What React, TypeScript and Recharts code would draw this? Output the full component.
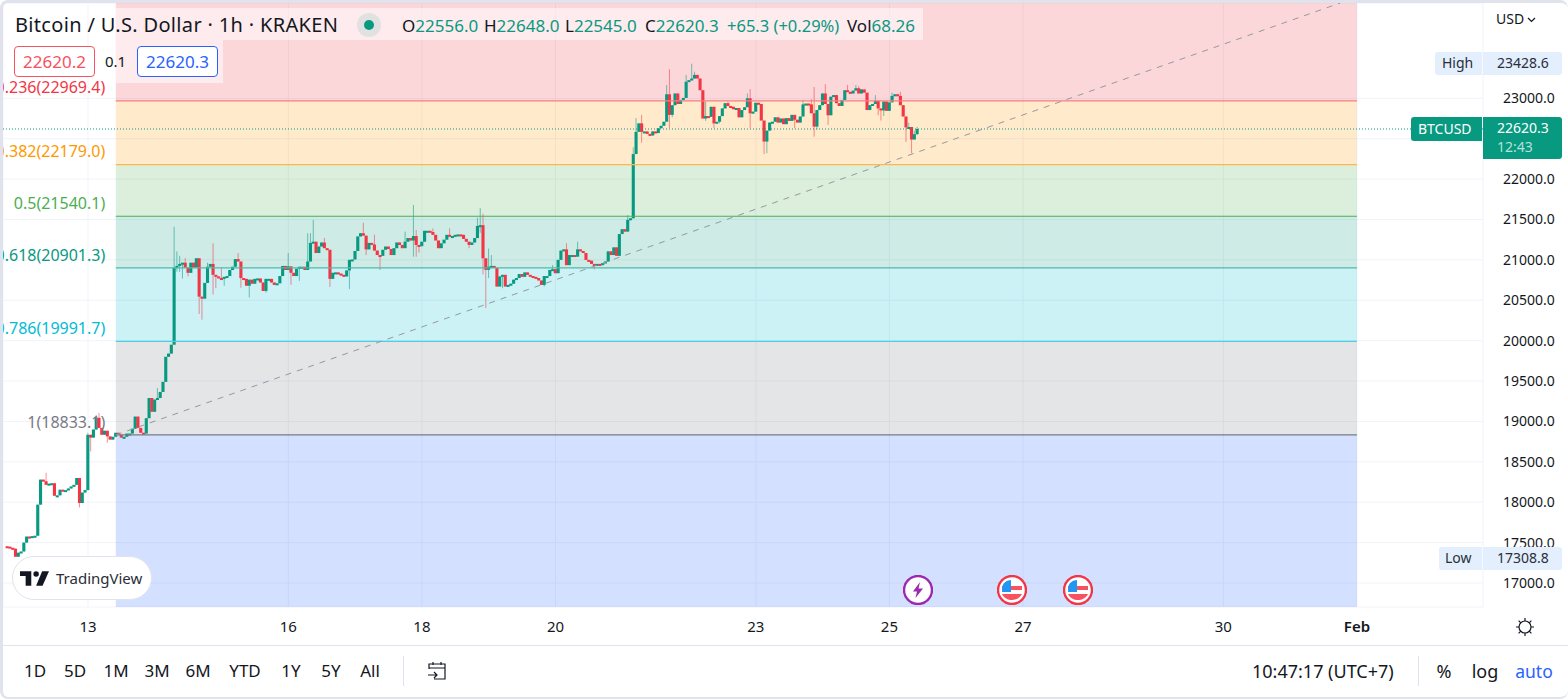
import {
  ComposedChart,
  Bar,
  XAxis,
  YAxis,
  CartesianGrid,
  ReferenceArea,
  ReferenceLine,
  ReferenceDot,
} from "recharts"

const FONT = '"Noto Sans", sans-serif'
const UP = "#089981"
const DOWN = "#f23645"
const INK = "#131722"

// hourly closes, first candle is 29 hours before Jan 13 00:00
const firstOpen = 17455
const closes = [
  17450, 17436, 17425, 17325, 17375, 17390, 17500, 17575, 17570, 17580,
  17585, 17970, 18280, 18260, 18215, 18230, 18235, 18080, 18085, 18155,
  18150, 18150, 18170, 18195, 18215, 18300, 17990, 18120, 18150,
  18835, 18800, 18900, 19045, 18920, 18835, 18885, 18815, 18775, 18810,
  18860, 18835, 18800, 18810, 18850, 18850, 18910, 19060, 18920, 18860,
  18850, 19040, 19290, 19120, 19270, 19290, 19365, 19490, 19800, 19840,
  19950,
  20900, 20925, 20950, 20965, 20905, 20840, 20965, 20905, 21020, 20545,
  20520, 20715, 20915, 20950, 20815, 20795, 20775, 20765, 20790, 20800,
  20875, 20915, 21010, 20980, 20775, 20765, 20680, 20755, 20705, 20765,
  20770, 20720, 20615, 20765, 20765, 20720, 20690, 20710, 20800, 20925,
  20875, 20920, 20840, 20800, 20890, 20915, 20915, 20875, 20980, 21210,
  21225, 21085, 21165, 21215, 21145, 21125,
  20765, 20840, 20845, 20830, 20815, 20795, 20870, 21000, 21005, 21110,
  21290, 21330, 21300, 21130, 21210, 21190, 21115, 21060, 21050, 21125,
  21165, 21135, 21060, 21145, 21215, 21185, 21145, 21225, 21270, 21240,
  21295, 21185, 21170, 21225, 21360, 21360, 21345, 21310, 21240, 21145,
  21205, 21250, 21310, 21290, 21295, 21310, 21315, 21310, 21260, 21225,
  21185, 21215, 21270, 21420, 21430, 21020, 20877,
  20915, 20925, 20900, 20670, 20795, 20815, 20670, 20690, 20705, 20755,
  20775, 20825, 20790, 20845, 20815, 20800, 20790, 20775, 20745, 20690,
  20800, 20800, 20875, 20885, 20835, 21000, 21115, 21130, 20935, 21060,
  21060, 21040, 21130, 21110, 21085, 21000, 20990, 20950, 20935, 20950,
  20935, 20960, 20980, 21105, 21060, 21155, 21050, 21320, 21380, 21350,
  21495, 21515,
  22310, 22585, 22690, 22585, 22590, 22560, 22540, 22590, 22570, 22630,
  22660, 22710, 23050, 22795, 22915, 23060, 22930, 22980, 23005, 23205,
  23225, 23245, 23290, 23245, 23100, 22750, 22780, 22770, 22895, 22690,
  22710, 22780, 22875, 22940, 22905, 22895, 22865, 22880, 22765, 22855,
  22890, 23000, 22815, 22835, 22945, 22930, 22725, 22465, 22600, 22700,
  22710, 22765, 22700,
  22750, 22680, 22755, 22720, 22795, 22735, 22700, 22775, 22925, 22935,
  22925, 22815, 22650, 22855, 22915, 23060, 22930, 22790, 23020, 23040,
  22940, 22905, 22980, 23100, 23080, 23060, 23095, 23125, 23060, 23110,
  23070, 22855, 22915, 22930, 22970, 22875, 22850, 22960, 22845, 22950,
  23030, 23050, 23030, 22915, 22775, 22640, 22645, 22490, 22556, 22620.3,
]

// [candle index, price] for the wicks that stick out far enough to read
const upperWicks = [
  [14, 18365], [29, 18860], [32, 19080], [33, 19105], [54, 19415], [60, 21410],
  [61, 21105], [62, 21050], [64, 21020], [72, 20965], [74, 21205], [77, 20900],
  [83, 21085], [101, 21085], [108, 21330], [109, 21330], [110, 21495], [114, 21270],
  [128, 21460], [132, 21310], [143, 21350], [146, 21680], [147, 21370], [153, 21390],
  [159, 21390], [169, 21520], [170, 21640], [171, 21570], [173, 21140], [174, 21060],
  [196, 20935], [201, 21205], [205, 21225], [223, 21555], [225, 22395], [226, 22755],
  [228, 22795], [237, 23165], [238, 23360], [244, 23290], [246, 23428.6], [247, 23330],
  [251, 22960], [259, 22960], [266, 23060], [267, 23115], [283, 22795], [286, 22980],
  [289, 22990], [290, 23140], [294, 23175], [302, 23165], [305, 23165], [306, 23150],
  [312, 23040], [318, 23070], [321, 23080], [324, 22700], [326, 22600], [327, 22648],
]
const lowerWicks = [
  [26, 17935], [30, 18630], [36, 18735], [61, 20855], [62, 20850], [63, 20770],
  [65, 20795], [69, 20330], [70, 20260], [74, 20570], [75, 20650], [78, 20680],
  [84, 20655], [87, 20535], [93, 20595], [102, 20690], [105, 20740], [116, 20665],
  [123, 20640], [129, 21060], [134, 20875], [146, 21040], [147, 21040], [148, 21090],
  [166, 21145], [170, 21335], [171, 20820], [172, 20405], [173, 20775], [178, 20650],
  [193, 20670], [211, 20880], [228, 22450], [231, 22535], [238, 22630], [239, 22765],
  [251, 22720], [254, 22630], [256, 22690], [267, 22630], [272, 22310], [273, 22320],
  [283, 22630], [290, 22525], [291, 22615], [295, 22670], [313, 22790], [314, 22725],
  [315, 22780], [323, 22460], [325, 22320], [327, 22545],
]

const fibLevels = [
  { name: "0.236", price: 22969.4, color: "#f23645", line: "#f77c80" },
  { name: "0.382", price: 22179.0, color: "#ff9800", line: "#ffb74d" },
  { name: "0.5", price: 21540.1, color: "#4caf50", line: "#4caf50" },
  { name: "0.618", price: 20901.3, color: "#089981", line: "#4fb8a8" },
  { name: "0.786", price: 19991.7, color: "#00bcd4", line: "#4dd0e1" },
  { name: "1", price: 18833.1, color: "#787b86", line: "#787b86" },
]
const fibBands = [
  { from: 22969.4, to: 24180, fill: "#f23645" },
  { from: 22179.0, to: 22969.4, fill: "#ff9800" },
  { from: 21540.1, to: 22179.0, fill: "#4caf50" },
  { from: 20901.3, to: 21540.1, fill: "#089981" },
  { from: 19991.7, to: 20901.3, fill: "#00bcd4" },
  { from: 18833.1, to: 19991.7, fill: "#787b86" },
  { from: 16703, to: 18833.1, fill: "#2962ff" },
]

const priceTicks = [17000, 17500, 18000, 18500, 19000, 19500, 20000, 20500, 21000, 21500, 22000, 22500, 23000]
const hourTicks = [0, 72, 120, 168, 240, 288, 336, 408, 456]
const hourLabels: Record<number, string> = {
  0: "13", 72: "16", 120: "18", 168: "20", 240: "23", 288: "25", 336: "27", 408: "30", 456: "Feb",
}
const ranges = ["1D", "5D", "1M", "3M", "6M", "YTD", "1Y", "5Y", "All"]
const rangeCenters = [35, 75, 116, 157, 198, 245, 291, 331, 370]
const ohlc = [
  { key: "O", value: "22556.0", left: 402 },
  { key: "H", value: "22648.0", left: 484 },
  { key: "L", value: "22545.0", left: 565 },
  { key: "C", value: "22620.3", left: 645 },
]

const highs = new Map(upperWicks.map(([i, p]) => [i, p]))
const lows = new Map(lowerWicks.map(([i, p]) => [i, p]))
const candles = closes.map((close, i) => {
  const open = i === 0 ? firstOpen : closes[i - 1]
  const high = highs.get(i) ?? Math.max(open, close)
  const low = lows.get(i) ?? Math.min(open, close)
  return { hour: i - 29, open, close, high, low, range: [low, high] }
})

function Candle(props: any) {
  const { x, y, width, height, payload } = props
  const h = Math.abs(height)
  const top = height < 0 ? y + height : y
  const span = payload.high - payload.low || 1
  const bodyTop = top + ((payload.high - Math.max(payload.open, payload.close)) / span) * h
  const bodyBottom = top + ((payload.high - Math.min(payload.open, payload.close)) / span) * h
  const color = payload.close >= payload.open ? UP : DOWN
  const mid = x + width / 2
  return (
    <g>
      <line x1={mid} x2={mid} y1={top} y2={top + h} stroke={color} strokeOpacity={0.55} />
      <rect x={x - 0.3} y={bodyTop} width={width + 0.6} height={Math.max(bodyBottom - bodyTop, 2)} fill={color} />
    </g>
  )
}

function DateTick({ x, y, payload }: any) {
  const month = payload.value === 456
  return (
    <text x={x} y={y} textAnchor="middle" fontFamily={FONT} fontSize={15} fill={INK} fontWeight={month ? 600 : 400}>
      {hourLabels[payload.value]}
    </text>
  )
}

function Txt({ left, top, color = INK, size = 14, center, children, style }: any) {
  return (
    <div
      style={{
        position: "absolute",
        left,
        top,
        color,
        fontSize: size,
        lineHeight: "18px",
        whiteSpace: "nowrap",
        transform: center ? "translateX(-50%)" : undefined,
        ...style,
      }}
    >
      {children}
    </div>
  )
}

function UsFlag({ left }: { left: number }) {
  return (
    <svg style={{ position: "absolute", left, top: 575 }} width={30} height={30} viewBox="0 0 30 30">
      <circle cx={15} cy={15} r={14} fill="#fff" stroke="#f23645" strokeWidth={2.4} />
      <path d="M5 11H25V15H5Z M5 19H25C23 23 19 25 15 25 11 25 7 23 5 19Z" fill="#f7525f" />
      <path d="M5.5 11C6 8 10 5 14 5V17H5Z" fill="#2196f3" />
    </svg>
  )
}

export default function App() {
  return (
    <div style={{ position: "absolute", left: 0, top: 0, width: 1568, height: 699, background: "#fff", overflow: "hidden", fontFamily: FONT }}>
      <ComposedChart
        width={1568}
        height={646}
        data={candles}
        margin={{ top: 3, right: 0, bottom: 0, left: 3 }}
        style={{ position: "absolute", left: 0, top: 0 }}
      >
        <CartesianGrid stroke="#f0f3fa" />
        <XAxis
          dataKey="hour"
          type="number"
          domain={[-30.54, 501.3]}
          ticks={hourTicks}
          height={39}
          axisLine={false}
          tickLine={false}
          tickMargin={19}
          tick={<DateTick />}
          allowDataOverflow
        />
        <YAxis
          orientation="right"
          type="number"
          domain={[16703, 24180]}
          ticks={priceTicks}
          width={85}
          axisLine={false}
          tickLine={false}
          tickMargin={14}
          tickFormatter={(v: number) => (v === 22500 ? "" : v.toFixed(1))}
          tick={{ fill: INK, fontSize: 14, fontFamily: FONT, textAnchor: "start" }}
          allowDataOverflow
        />
        {fibBands.map((b) => (
          <ReferenceArea key={b.from} x1={10} x2={456} y1={b.from} y2={b.to} fill={b.fill} fillOpacity={0.2} stroke="none" ifOverflow="hidden" />
        ))}
        {fibLevels.map((l) => (
          <ReferenceLine
            key={l.name}
            segment={[{ x: 10, y: l.price }, { x: 456, y: l.price }]}
            stroke={l.line}
            strokeWidth={1.2}
          />
        ))}
        <ReferenceLine
          segment={[{ x: 10, y: 18833.1 }, { x: 450, y: 24180 }]}
          stroke="#9598a1"
          strokeDasharray="6 6"
        />
        <ReferenceLine y={22620.3} stroke={UP} strokeDasharray="1 2" />
        {fibLevels.map((l) => (
          <ReferenceDot
            key={l.name}
            x={8}
            y={l.price}
            r={0}
            stroke="none"
            label={{ value: `${l.name}(${l.price.toFixed(1)})`, position: "left", fill: l.color, fontSize: 16, fontFamily: FONT, dy: -13 }}
          />
        ))}
        <Bar dataKey="range" barSize={3} shape={<Candle />} isAnimationActive={false} />
      </ComposedChart>

      {/* legend strip */}
      <div style={{ position: "absolute", left: 116, top: 8, width: 807, height: 32, background: "rgba(255,255,255,.5)" }} />
      <div style={{ position: "absolute", left: 116, top: 40, width: 107, height: 43, background: "rgba(255,255,255,.5)" }} />
      <Txt left={15} top={16} size={20} style={{ letterSpacing: 0.33 }}>Bitcoin / U.S. Dollar · 1h · KRAKEN</Txt>
      <svg style={{ position: "absolute", left: 357, top: 13 }} width={24} height={24}>
        <circle cx={12} cy={12} r={12} fill="#089981" fillOpacity={0.12} />
        <circle cx={12} cy={12} r={5} fill={UP} />
      </svg>
      {ohlc.map((o) => (
        <Txt key={o.key} left={o.left} top={17} size={17}>
          {o.key}
          <span style={{ color: UP }}>{o.value}</span>
        </Txt>
      ))}
      <Txt left={727} top={17} size={16.5} color={UP}>+65.3 (+0.29%)</Txt>
      <Txt left={847} top={17} size={17}>Vol<span style={{ color: UP }}>68.26</span></Txt>

      <div style={{ position: "absolute", left: 14, top: 46, width: 81, height: 31, boxSizing: "border-box", border: "1px solid #f7525f", borderRadius: 4, background: "#fff", color: "#f7525f", fontSize: 17, lineHeight: "29px", textAlign: "center" }}>22620.2</div>
      <Txt left={105} top={52} size={15}>0.1</Txt>
      <div style={{ position: "absolute", left: 137, top: 46, width: 81, height: 31, boxSizing: "border-box", border: "1px solid #2962ff", borderRadius: 4, background: "#fff", color: "#2962ff", fontSize: 17, lineHeight: "29px", textAlign: "center" }}>22620.3</div>

      {/* price scale badges */}
      <Txt left={1496} top={10} size={14}>USD</Txt>
      <svg style={{ position: "absolute", left: 1527, top: 15 }} width={9} height={9}>
        <path d="M1 3L4.5 6.5L8 3" fill="none" stroke={INK} strokeWidth={1.2} />
      </svg>
      <div style={{ position: "absolute", left: 1435, top: 52, width: 47, height: 23, background: "#e3effd", borderRadius: "3px 0 0 3px" }} />
      <div style={{ position: "absolute", left: 1483, top: 52, width: 79, height: 23, background: "#e3effd", borderRadius: "0 3px 3px 0" }} />
      <Txt left={1442} top={54} color="#2a2e39">High</Txt>
      <Txt left={1497} top={54} color="#2a2e39">23428.6</Txt>
      <div style={{ position: "absolute", left: 1439, top: 547, width: 43, height: 23, background: "#e3effd", borderRadius: "3px 0 0 3px" }} />
      <div style={{ position: "absolute", left: 1483, top: 547, width: 79, height: 23, background: "#e3effd", borderRadius: "0 3px 3px 0" }} />
      <Txt left={1445} top={549} color="#2a2e39">Low</Txt>
      <Txt left={1497} top={549} color="#2a2e39">17308.8</Txt>
      <div style={{ position: "absolute", left: 1411, top: 117, width: 71, height: 24, background: UP, borderRadius: "3px 0 0 3px" }} />
      <div style={{ position: "absolute", left: 1483, top: 117, width: 79, height: 42, background: UP, borderRadius: "0 3px 3px 0" }} />
      <Txt left={1418} top={120} color="#fff" size={14}>BTCUSD</Txt>
      <Txt left={1497} top={119} color="#fff">22620.3</Txt>
      <Txt left={1497} top={138} color="#b5e1d8">12:43</Txt>

      {/* watermark */}
      <div style={{ position: "absolute", left: 12, top: 556, width: 140, height: 44, boxSizing: "border-box", borderRadius: 22, background: "#fff", border: "1px solid #e0e3eb" }} />
      <svg style={{ position: "absolute", left: 20, top: 571 }} width={29} height={15} viewBox="0 0 36 18">
        <path d="M14 0H0V6H7V18H14Z" fill="#131722" />
        <circle cx={20} cy={3.4} r={3.4} fill="#131722" />
        <path d="M28 18H20L27.5 0H36Z" fill="#131722" />
      </svg>
      <Txt left={56} top={569} size={15} color="#2a2e39">TradingView</Txt>

      {/* event marks */}
      <svg style={{ position: "absolute", left: 903, top: 575 }} width={30} height={30} viewBox="0 0 30 30">
        <circle cx={15} cy={15} r={14} fill="#fff" stroke="#9c27b0" strokeWidth={2.4} />
        <path d="M17 7L10 16.5H14L12.5 23L20 13.5H15.5Z" fill="#9c27b0" />
      </svg>
      <UsFlag left={997} />
      <UsFlag left={1063} />

      {/* settings */}
      <svg style={{ position: "absolute", left: 1515, top: 617 }} width={20} height={20} viewBox="0 0 20 20">
        <circle cx={10} cy={10} r={6} fill="none" stroke={INK} strokeWidth={1.2} />
        <path d="M10 1V4 M10 16V19 M1 10H4 M16 10H19 M3.6 3.6L5.8 5.8 M14.2 14.2L16.4 16.4 M3.6 16.4L5.8 14.2 M14.2 5.8L16.4 3.6" stroke={INK} strokeWidth={1.2} />
      </svg>

      {/* bottom toolbar */}
      <div style={{ position: "absolute", left: 0, top: 645, width: 1568, height: 1, background: "#e0e3eb" }} />
      {ranges.map((r, i) => (
        <Txt key={r} left={rangeCenters[i]} top={662} size={17} center>{r}</Txt>
      ))}
      <div style={{ position: "absolute", left: 403, top: 656, width: 1, height: 30, background: "#e0e3eb" }} />
      <svg style={{ position: "absolute", left: 426, top: 660 }} width={22} height={22} viewBox="0 0 22 22">
        <path d="M3 9V4H19V19H8 M3 8H19 M7 2V5 M15 2V5 M2 15H11 M8 12L11 15L8 18" fill="none" stroke={INK} strokeWidth={1.2} />
      </svg>
      <Txt left={1252} top={662} size={18}>10:47:17 (UTC+7)</Txt>
      <div style={{ position: "absolute", left: 1418, top: 656, width: 1, height: 30, background: "#e0e3eb" }} />
      <Txt left={1444} top={662} size={18} center>%</Txt>
      <Txt left={1485} top={662} size={18} center>log</Txt>
      <Txt left={1534} top={662} size={17.5} center color="#2962ff">auto</Txt>

      {/* window frame */}
      <div
        style={{
          position: "absolute",
          left: 0,
          top: 0,
          width: 1568,
          height: 699,
          boxSizing: "border-box",
          borderStyle: "solid",
          borderColor: "#e0e3eb",
          borderWidth: "3px 0 2px 3px",
          borderRadius: "8px 8px 8px 8px",
          pointerEvents: "none",
        }}
      />
    </div>
  )
}
